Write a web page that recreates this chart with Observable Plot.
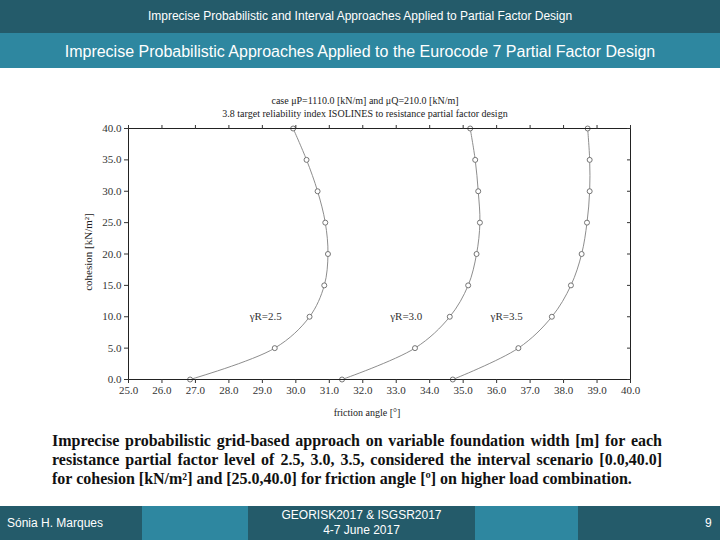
<!DOCTYPE html>
<html><head><meta charset="utf-8">
<script src="https://cdn.jsdelivr.net/npm/d3@7"></script>
<script src="https://cdn.jsdelivr.net/npm/@observablehq/plot@0.6"></script>
<style>
body{margin:0;width:720px;height:540px;position:relative;overflow:hidden;background:#fff;font-family:"Liberation Sans",Arial,sans-serif}
.abs{position:absolute}
.band{position:absolute;left:0;width:720px}
.hdr{color:#fff;text-align:center;white-space:nowrap}
.serif{font-family:"Liberation Serif","Times New Roman",serif;color:#222;white-space:nowrap}
.cap{position:absolute;left:52px;width:610px;font-family:"Liberation Serif","Times New Roman",serif;font-weight:bold;font-size:16px;color:#111;white-space:nowrap}
.just{text-align:justify;text-align-last:justify}
.foot{position:absolute;top:506px;height:34px}
.ft{position:absolute;color:#fff;font-family:"Liberation Sans Narrow","Liberation Sans",sans-serif;font-size:12px;white-space:nowrap}
</style></head><body>
<div class="band" style="top:0;height:33px;background:#245b6a"></div>
<div class="band" style="top:33px;height:35px;background:#2e87a0"></div>
<div class="abs hdr" style="left:0;width:720px;top:9px;font-size:12px">Imprecise Probabilistic and Interval Approaches Applied to Partial Factor Design</div>
<div class="abs hdr" style="left:0;width:720px;top:43px;font-size:16px">Imprecise Probabilistic Approaches Applied to the Eurocode 7 Partial Factor Design</div>

<div class="abs serif" style="left:0;width:730px;text-align:center;top:95px;font-size:10px">case μP=1110.0 [kN/m] and μQ=210.0 [kN/m]</div>
<div class="abs serif" style="left:0;width:730px;text-align:center;top:108px;font-size:10px">3.8 target reliability index ISOLINES to resistance partial factor design</div>
<div class="abs serif" style="left:317px;width:100px;text-align:center;top:407px;font-size:10px">friction angle [°]</div>
<div class="abs serif" style="left:38px;top:246px;width:100px;text-align:center;font-size:11px;transform:rotate(-90deg)">cohesion [kN/m²]</div>

<div id="chart" class="abs" style="left:0;top:80px"></div>

<div class="cap just" style="top:432px">Imprecise probabilistic grid-based approach on variable foundation width [m] for each</div>
<div class="cap just" style="top:451px">resistance partial factor level of 2.5, 3.0, 3.5, considered the interval scenario [0.0,40.0]</div>
<div class="cap" style="top:470px">for cohesion [kN/m²] and [25.0,40.0] for friction angle [º] on higher load combination.</div>

<div class="foot" style="left:0;width:142px;background:#245b6a"></div>
<div class="foot" style="left:142px;width:106px;background:#2e87a0"></div>
<div class="foot" style="left:248px;width:227px;background:#245b6a"></div>
<div class="foot" style="left:475px;width:103px;background:#2e87a0"></div>
<div class="foot" style="left:578px;width:142px;background:#245b6a"></div>
<div class="ft" style="left:7px;top:516px">Sónia H. Marques</div>
<div class="ft" style="left:248px;width:227px;text-align:center;top:508px;line-height:15px">GEORISK2017 &amp; ISGSR2017<br>4-7 June 2017</div>
<div class="ft" style="left:705px;top:516px">9</div>

<script>
const cohesion = [0, 5, 10, 15, 20, 25, 30, 35, 40];
const phiR25 = [26.84, 29.37, 30.41, 30.85, 30.96, 30.88, 30.65, 30.32, 29.92];
const phiR30 = [31.38, 33.56, 34.60, 35.15, 35.40, 35.50, 35.45, 35.36, 35.21];
const phiR35 = [34.69, 36.65, 37.65, 38.22, 38.54, 38.70, 38.78, 38.78, 38.72];
const seriesNames = ["γR=2.5", "γR=3.0", "γR=3.5"];
const labelPhi = [29.1, 33.3, 36.3];
const labelC = [10, 10, 10];
const xTicks = [25, 26, 27, 28, 29, 30, 31, 32, 33, 34, 35, 36, 37, 38, 39, 40];
const yTicks = [0, 5, 10, 15, 20, 25, 30, 35, 40];

const series = [phiR25, phiR30, phiR35];
const rows = [];
series.forEach((vals, i) => vals.forEach((v, j) => rows.push({s: seriesNames[i], phi: v, c: cohesion[j]})));
const labels = seriesNames.map((n, i) => ({n, phi: labelPhi[i], c: labelC[i]}));

const chart = Plot.plot({
  width: 720, height: 340,
  marginTop: 48, marginBottom: 41, marginLeft: 128, marginRight: 90,
  style: {fontFamily: "Liberation Serif, Times New Roman, serif", fontSize: "11px", color: "#333", background: "transparent", overflow: "visible"},
  x: {domain: [25, 40]},
  y: {domain: [0, 40]},
  marks: [
    Plot.line(rows, {x: "phi", y: "c", z: "s", stroke: "#808080", strokeWidth: 0.9, curve: "catmull-rom"}),
    Plot.dot(rows, {x: "phi", y: "c", r: 2.5, stroke: "#666", strokeWidth: 0.9, fill: "white"}),
    Plot.text(labels, {x: "phi", y: "c", text: "n", fill: "#333", fontSize: 11}),
    Plot.frame({stroke: "#222", strokeWidth: 1}),
    Plot.axisX({ticks: xTicks, tickFormat: ".1f", tickSize: 4, tickPadding: 3, label: null}),
    Plot.axisX({anchor: "top", ticks: xTicks, tickFormat: () => "", tickSize: 4, label: null}),
    Plot.axisY({ticks: yTicks, tickFormat: ".1f", tickSize: 4, tickPadding: 3, label: null}),
    Plot.axisY({anchor: "right", ticks: yTicks, tickFormat: () => "", tickSize: -4, label: null})
  ]
});
document.getElementById("chart").appendChild(chart);
</script>
</body></html>
